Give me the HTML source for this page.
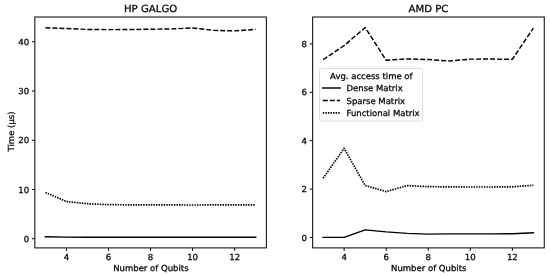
<!DOCTYPE html>
<html lang="en"><head><meta charset="utf-8"><title>Avg. access time</title>
<style>html,body{margin:0;padding:0;background:#fff}body{width:550px;height:276px;overflow:hidden}svg{display:block}text{font-family:'DejaVu Sans','Liberation Sans',sans-serif;fill:#000;stroke:#000;stroke-width:0.25px;text-rendering:geometricPrecision}</style></head><body>
<svg width="550" height="276" viewBox="0 0 550 276">
<rect width="550" height="276" fill="#fff"/>
<line x1="66.43" y1="247.90" x2="66.43" y2="250.80" stroke="#000" stroke-width="1.00"/>
<text transform="translate(66.43 260.20) scale(1.0300 1)" font-size="8.33" text-anchor="middle">4</text>
<line x1="108.49" y1="247.90" x2="108.49" y2="250.80" stroke="#000" stroke-width="1.00"/>
<text transform="translate(108.49 260.20) scale(1.0300 1)" font-size="8.33" text-anchor="middle">6</text>
<line x1="150.55" y1="247.90" x2="150.55" y2="250.80" stroke="#000" stroke-width="1.00"/>
<text transform="translate(150.55 260.20) scale(1.0300 1)" font-size="8.33" text-anchor="middle">8</text>
<line x1="192.61" y1="247.90" x2="192.61" y2="250.80" stroke="#000" stroke-width="1.00"/>
<text transform="translate(192.61 260.20) scale(1.0300 1)" font-size="8.33" text-anchor="middle">10</text>
<line x1="234.67" y1="247.90" x2="234.67" y2="250.80" stroke="#000" stroke-width="1.00"/>
<text transform="translate(234.67 260.20) scale(1.0300 1)" font-size="8.33" text-anchor="middle">12</text>
<line x1="31.95" y1="238.75" x2="34.85" y2="238.75" stroke="#000" stroke-width="1.00"/>
<text transform="translate(29.30 241.90) scale(1.0300 1)" font-size="8.33" text-anchor="end">0</text>
<line x1="31.95" y1="189.50" x2="34.85" y2="189.50" stroke="#000" stroke-width="1.00"/>
<text transform="translate(29.30 192.65) scale(1.0300 1)" font-size="8.33" text-anchor="end">10</text>
<line x1="31.95" y1="140.25" x2="34.85" y2="140.25" stroke="#000" stroke-width="1.00"/>
<text transform="translate(29.30 143.40) scale(1.0300 1)" font-size="8.33" text-anchor="end">20</text>
<line x1="31.95" y1="91.00" x2="34.85" y2="91.00" stroke="#000" stroke-width="1.00"/>
<text transform="translate(29.30 94.15) scale(1.0300 1)" font-size="8.33" text-anchor="end">30</text>
<line x1="31.95" y1="41.75" x2="34.85" y2="41.75" stroke="#000" stroke-width="1.00"/>
<text transform="translate(29.30 44.90) scale(1.0300 1)" font-size="8.33" text-anchor="end">40</text>
<rect x="34.85" y="17.00" width="231.50" height="230.90" fill="none" stroke="#000" stroke-width="1.00"/>
<text transform="translate(150.60 12.00) scale(1.0400 1)" font-size="9.75" text-anchor="middle">HP GALGO</text>
<text transform="translate(150.90 271.35) scale(1.0220 1)" font-size="8.33" text-anchor="middle">Number of Qubits</text>
<text transform="translate(13.60 131.45) rotate(-90) scale(1.0200 1)" font-size="8.33" text-anchor="middle">Time (µs)</text>
<path d="M45.40 236.80 L66.43 237.10 L87.46 237.25 L108.49 237.30 L129.52 237.30 L150.55 237.30 L171.58 237.30 L192.61 237.30 L213.64 237.25 L234.67 237.25 L255.70 237.25" fill="none" stroke="#000" stroke-width="1.45" stroke-linejoin="round" stroke-linecap="square"/>
<path d="M45.40 27.75 L66.43 28.50 L87.46 29.45 L108.49 29.65 L129.52 29.50 L150.55 29.25 L171.58 28.90 L192.61 28.00 L213.64 30.40 L234.67 30.90 L255.70 29.40" fill="none" stroke="#000" stroke-width="1.45" stroke-linejoin="round" stroke-dasharray="5.0 2.0"/>
<path d="M45.40 192.45 L66.43 201.55 L87.46 203.75 L108.49 204.65 L129.52 204.85 L150.55 204.95 L171.58 204.95 L192.61 205.00 L213.64 204.95 L234.67 204.90 L255.70 204.95" fill="none" stroke="#000" stroke-width="1.70" stroke-linejoin="round" stroke-dasharray="1.45 1.11"/>
<line x1="344.13" y1="247.90" x2="344.13" y2="250.80" stroke="#000" stroke-width="1.00"/>
<text transform="translate(344.13 260.20) scale(1.0300 1)" font-size="8.33" text-anchor="middle">4</text>
<line x1="386.19" y1="247.90" x2="386.19" y2="250.80" stroke="#000" stroke-width="1.00"/>
<text transform="translate(386.19 260.20) scale(1.0300 1)" font-size="8.33" text-anchor="middle">6</text>
<line x1="428.25" y1="247.90" x2="428.25" y2="250.80" stroke="#000" stroke-width="1.00"/>
<text transform="translate(428.25 260.20) scale(1.0300 1)" font-size="8.33" text-anchor="middle">8</text>
<line x1="470.31" y1="247.90" x2="470.31" y2="250.80" stroke="#000" stroke-width="1.00"/>
<text transform="translate(470.31 260.20) scale(1.0300 1)" font-size="8.33" text-anchor="middle">10</text>
<line x1="512.37" y1="247.90" x2="512.37" y2="250.80" stroke="#000" stroke-width="1.00"/>
<text transform="translate(512.37 260.20) scale(1.0300 1)" font-size="8.33" text-anchor="middle">12</text>
<line x1="309.75" y1="237.50" x2="312.65" y2="237.50" stroke="#000" stroke-width="1.00"/>
<text transform="translate(307.00 240.65) scale(1.0300 1)" font-size="8.33" text-anchor="end">0</text>
<line x1="309.75" y1="189.10" x2="312.65" y2="189.10" stroke="#000" stroke-width="1.00"/>
<text transform="translate(307.00 192.25) scale(1.0300 1)" font-size="8.33" text-anchor="end">2</text>
<line x1="309.75" y1="140.70" x2="312.65" y2="140.70" stroke="#000" stroke-width="1.00"/>
<text transform="translate(307.00 143.85) scale(1.0300 1)" font-size="8.33" text-anchor="end">4</text>
<line x1="309.75" y1="92.30" x2="312.65" y2="92.30" stroke="#000" stroke-width="1.00"/>
<text transform="translate(307.00 95.45) scale(1.0300 1)" font-size="8.33" text-anchor="end">6</text>
<line x1="309.75" y1="43.90" x2="312.65" y2="43.90" stroke="#000" stroke-width="1.00"/>
<text transform="translate(307.00 47.05) scale(1.0300 1)" font-size="8.33" text-anchor="end">8</text>
<rect x="312.65" y="17.00" width="231.60" height="230.90" fill="none" stroke="#000" stroke-width="1.00"/>
<text transform="translate(428.45 12.00) scale(1.0400 1)" font-size="9.75" text-anchor="middle">AMD PC</text>
<text transform="translate(428.75 271.35) scale(1.0220 1)" font-size="8.33" text-anchor="middle">Number of Qubits</text>
<path d="M323.10 237.35 L344.13 237.35 L365.16 229.85 L386.19 231.85 L407.22 233.35 L428.25 234.15 L449.28 233.85 L470.31 233.85 L491.34 233.85 L512.37 233.75 L533.40 232.75" fill="none" stroke="#000" stroke-width="1.45" stroke-linejoin="round" stroke-linecap="square"/>
<path d="M323.10 59.75 L344.13 45.55 L365.16 27.55 L386.19 60.25 L407.22 58.85 L428.25 59.55 L449.28 60.95 L470.31 59.15 L491.34 59.05 L512.37 59.25 L533.40 28.05" fill="none" stroke="#000" stroke-width="1.45" stroke-linejoin="round" stroke-dasharray="5.0 2.0"/>
<path d="M323.10 178.25 L344.13 148.35 L365.16 185.50 L386.19 191.60 L407.22 185.55 L428.25 186.65 L449.28 186.90 L470.31 187.00 L491.34 187.00 L512.37 186.80 L533.40 185.25" fill="none" stroke="#000" stroke-width="1.70" stroke-linejoin="round" stroke-dasharray="1.45 1.11"/>
<rect x="319.5" y="68.5" width="103" height="52.6" rx="1.7" ry="1.7" fill="#fff" fill-opacity="0.8" stroke="#ccc" stroke-opacity="0.8" stroke-width="0.83"/>
<text transform="translate(371.30 78.90) scale(1.0180 1)" font-size="8.33" text-anchor="middle">Avg. access time of</text>
<path d="M322.80 88.00 L340.10 88.00" fill="none" stroke="#000" stroke-width="1.45" stroke-linejoin="round" stroke-linecap="square"/>
<text transform="translate(346.50 91.30) scale(1.0200 1)" font-size="8.33" text-anchor="start">Dense Matrix</text>
<path d="M322.80 100.45 L340.10 100.45" fill="none" stroke="#000" stroke-width="1.45" stroke-linejoin="round" stroke-dasharray="5.0 2.0"/>
<text transform="translate(346.50 103.55) scale(1.0200 1)" font-size="8.33" text-anchor="start">Sparse Matrix</text>
<path d="M322.80 112.90 L340.10 112.90" fill="none" stroke="#000" stroke-width="1.70" stroke-linejoin="round" stroke-dasharray="1.45 1.11"/>
<text transform="translate(346.50 116.00) scale(1.0200 1)" font-size="8.33" text-anchor="start">Functional Matrix</text>
</svg></body></html>
